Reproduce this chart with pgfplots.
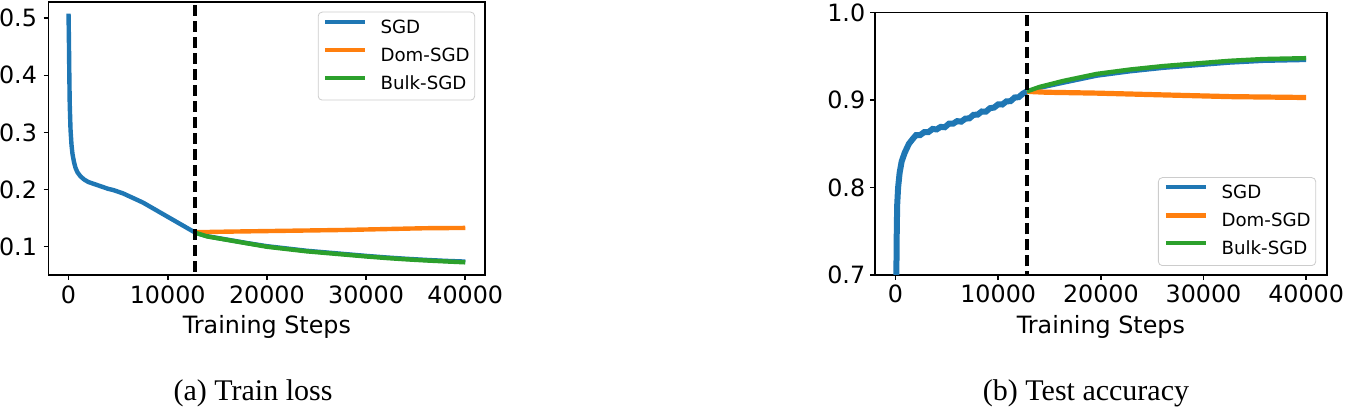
\documentclass[border=0pt]{standalone}
\usepackage{fontspec}
\setmainfont{DejaVu Sans}
\newfontfamily\capfont{Liberation Serif}
\usepackage{pgfplots}
\pgfplotsset{compat=1.18}
\definecolor{mplblue}{HTML}{1F77B4}
\definecolor{mplorange}{HTML}{FF7F0E}
\definecolor{mplgreen}{HTML}{2CA02C}

\newcommand{\tickfont}{\fontsize{11.9}{14}\selectfont}
\newcommand{\legfont}{\fontsize{9.1}{11}\selectfont}

\pgfplotsset{
  panel/.style={
    scale only axis,
    axis line style={line width=0.8pt},
    tick align=outside, major tick length=2.5pt, tick pos=left,
    tick style={black, line width=0.8pt},
    xmin=-2000, xmax=42000,
    xtick={0,10000,20000,30000,40000}, scaled x ticks=false,
    /pgf/number format/assume math mode=true,
    /pgf/number format/1000 sep={},
    xticklabel={\tickfont\pgfmathprintnumber{\tick}},
    yticklabel={\tickfont\pgfmathprintnumber[fixed,fixed zerofill,precision=1]{\tick}},
    xticklabel style={inner sep=0pt, anchor=base, yshift=-11.5pt},
    yticklabel style={inner sep=0pt, anchor=east, xshift=-3.2pt},
    xlabel={\tickfont Training Steps},
    xlabel style={at={(axis description cs:0.5,0)}, anchor=base, yshift=-29.5pt},
    legend cell align=left,
    legend image code/.code={\draw[#1] (0pt,3.2pt) -- (20pt,3.2pt);},
    legend style={draw=black!20, rounded corners=2pt, fill=white,
      inner xsep=2.5pt, inner ysep=3.5pt, row sep=5pt,
      nodes={inner sep=0pt, text height=7pt, text depth=2pt},
      /tikz/every odd column/.append style={column sep=6.5pt}},
  },
  vline/.style={black, line width=2pt, dash pattern=on 5.5pt off 2.5pt, forget plot},
}

\pgfplotstableread{
x y
0 0.508
40 0.46
80 0.40
120 0.35
200 0.305
300 0.278
400 0.262
550 0.248
700 0.238
900 0.230
1200 0.223
1600 0.217
2000 0.213
2500 0.210
3000 0.207
3500 0.204
4000 0.201
4500 0.199
5000 0.196
5500 0.193
6000 0.189
6500 0.185
7000 0.181
7500 0.177
8000 0.172
8500 0.167
9000 0.162
9500 0.157
10000 0.152
10500 0.147
11000 0.142
11500 0.137
12000 0.132
12500 0.127
12800 0.124
14000 0.118
16000 0.112
18000 0.106
20000 0.1005
22000 0.0965
24000 0.0925
26000 0.0895
28000 0.0865
30000 0.0835
32000 0.0808
34000 0.0785
36000 0.0765
38000 0.0748
40000 0.0735
}\losssgd

\pgfplotstableread{
x y
12800 0.125
16000 0.126
20000 0.127
24000 0.128
28000 0.129
32000 0.1305
36000 0.132
40000 0.1325
}\lossdom

\pgfplotstableread{
x y
12800 0.124
14000 0.1175
16000 0.1115
18000 0.1055
20000 0.0995
22000 0.0955
24000 0.0915
26000 0.0885
28000 0.0855
30000 0.0825
32000 0.0798
34000 0.0775
36000 0.0755
38000 0.0738
40000 0.0722
}\lossbulk

\pgfplotstableread{
x y
0 0.55
80 0.70
120 0.75
160 0.78
250 0.800
400 0.817
600 0.830
900 0.840
1300 0.850
1700 0.856
2000 0.860
2400 0.860
2800 0.8635
3200 0.8634
3600 0.867
4000 0.8665
4400 0.8694
4800 0.869
5200 0.873
5600 0.873
6000 0.876
6400 0.8754
6800 0.8788
7200 0.8792
7600 0.8832
8000 0.8834
8400 0.887
8800 0.8868
9200 0.8908
9600 0.8915
10000 0.8952
10400 0.895
10800 0.8986
11200 0.8988
11600 0.903
12000 0.9034
12400 0.9074
12800 0.910
}\accpre

\pgfplotstableread{
x y
12800 0.910
14000 0.914
16350 0.920
19600 0.928
22840 0.933
26090 0.937
29340 0.940
32580 0.943
35830 0.945
40000 0.946
}\accsgd

\pgfplotstableread{
x y
12800 0.910
14700 0.909
19600 0.908
26000 0.906
32600 0.904
40000 0.903
}\accdom

\pgfplotstableread{
x y
12800 0.910
14000 0.915
16350 0.922
19600 0.930
22840 0.935
26090 0.939
29340 0.942
32580 0.945
35830 0.947
40000 0.948
}\accbulk

\begin{document}
\begin{tikzpicture}
\useasboundingbox (0,0) rectangle (674.5pt,203.5pt);

\begin{axis}[panel,
  at={(24.35pt,66pt)}, anchor=south west,
  width=218.2pt, height=136.35pt,
  ymin=0.05, ymax=0.528,
  ytick={0.1,0.2,0.3,0.4,0.5},
  legend style={at={(1,1)}, anchor=north east, xshift=-5pt, yshift=-4.7pt},
]
\addplot[mplblue, line width=2.2pt] table {\losssgd};
\addlegendentry{\legfont SGD}
\addplot[mplorange, line width=2.2pt] table {\lossdom};
\addlegendentry{\legfont Dom-SGD}
\addplot[mplgreen, line width=2.2pt] table {\lossbulk};
\addlegendentry{\legfont Bulk-SGD}
\addplot[vline] coordinates {(12800,0) (12800,0.6)};
\end{axis}

\begin{axis}[panel,
  at={(437.5pt,66pt)}, anchor=south west,
  width=225.85pt, height=131.15pt,
  ymin=0.7, ymax=1.0,
  ytick={0.7,0.8,0.9,1.0},
  yticklabel style={xshift=1pt},
  legend style={at={(1,0)}, anchor=south east, xshift=-5.3pt, yshift=4.5pt},
]
\addplot[mplblue, line width=2.2pt] table {\accsgd};
\addlegendentry{\legfont SGD}
\addplot[mplblue, line width=3pt, forget plot] table {\accpre};
\addplot[mplorange, line width=2.6pt] table {\accdom};
\addlegendentry{\legfont Dom-SGD}
\addplot[mplgreen, line width=2.2pt] table {\accbulk};
\addlegendentry{\legfont Bulk-SGD}
\addplot[vline] coordinates {(12800,0.6) (12800,1.1)};
\end{axis}

\node[font=\capfont\fontsize{15}{18}\selectfont, anchor=base] at (126.5pt,3.5pt) {(a) Train loss};
\node[font=\capfont\fontsize{15}{18}\selectfont, anchor=base] at (543pt,3.5pt) {(b) Test accuracy};
\end{tikzpicture}
\end{document}
